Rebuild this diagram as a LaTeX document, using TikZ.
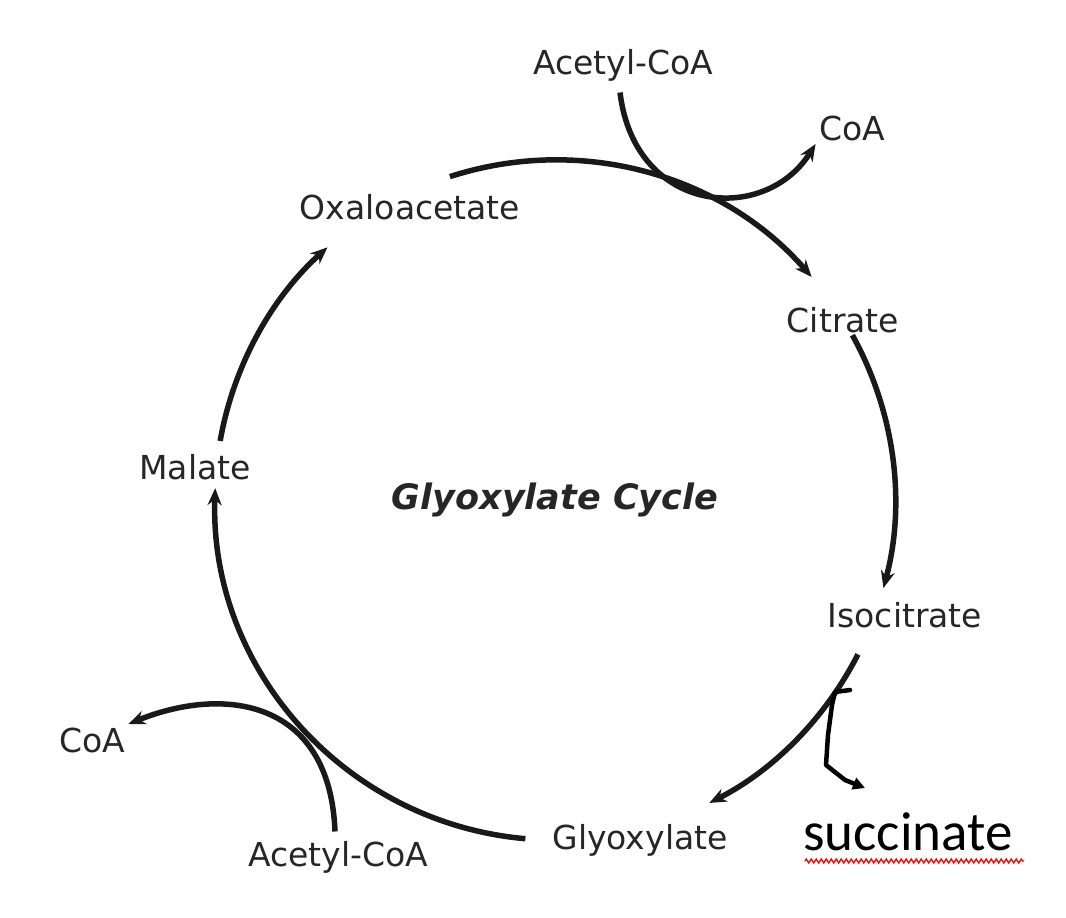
\documentclass[tikz,border=0pt]{standalone}
\usepackage{fontspec}
\setmainfont{DejaVu Sans}
\newfontfamily\calib{Carlito}
\usetikzlibrary{arrows.meta,decorations.pathmorphing}
\begin{document}
\begin{tikzpicture}[x=1pt,y=-1pt,
  lbl/.style={font=\fontsize{33}{36}\selectfont, text=black!85},
  arc/.style={line width=5.5pt, black!90, -{Stealth[length=17pt,width=14pt]}},
  side/.style={line width=5.5pt, black!90, -{Stealth[length=17pt,width=14pt]}}]
\useasboundingbox (0,0) rectangle (1066,918);
\def\cx{555}\def\cy{500}\def\r{340}
\node[lbl] (acoa1) at (623,65) {Acetyl-CoA};
\node[lbl] (coa1) at (852,128) {CoA};
\node[lbl] (oaa) at (410,207) {Oxaloacetate};
\node[lbl] (cit) at (843,320) {Citrate};
\node[lbl] (iso) at (905,615) {Isocitrate};
\node[lbl] (mal) at (195,467) {Malate};
\node[lbl] (gly) at (640,840) {Glyoxylate};
\node[lbl] (coa2) at (92,740) {CoA};
\node[lbl] (acoa2) at (338,857) {Acetyl-CoA};
\node[font=\fontsize{35}{38}\selectfont\bfseries\itshape, text=black!85] (title) at (555,500) {Glyoxylate Cycle};
\node[font=\calib\fontsize{55}{60}\selectfont, anchor=base west, inner sep=0] (succ) at (803,850) {succinate};
% cycle arcs
\draw[arc] ({\cx+\r*cos(108)},{\cy-\r*sin(108)}) arc[start angle=-108,end angle=-41,radius=\r];
\draw[arc] ({\cx+\r*cos(29)},{\cy-\r*sin(29)}) arc[start angle=-29,end angle=15,radius=\r];
\draw[arc] ({\cx+\r*cos(-27)},{\cy-\r*sin(-27)}) arc[start angle=27,end angle=63,radius=\r];
\draw[arc] ({\cx+\r*cos(-95)},{\cy-\r*sin(-95)}) arc[start angle=95,end angle=182,radius=\r];
\draw[arc] ({\cx+\r*cos(170)},{\cy-\r*sin(170)}) arc[start angle=190,end angle=228,radius=\r];
% side reactions
\draw[side] (acoa1.south) ++(-3,8) coordinate (a1) .. controls (635,215) and (765,225) .. (coa1.south west);
\draw[side] (acoa2.north) ++(-3,-6) coordinate (a2) .. controls (330,700) and (225,685) .. (coa2.north east);
% scribble
\coordinate (s0) at (850,690);
\draw[line width=4.5pt, line join=round, line cap=round, -{Triangle[length=12pt,width=12pt]}]
  (s0) -- (835,692) -- (832,705) -- (828,735) -- (826,765) -- (845,780) -- (865,788);
\draw[red, line width=1.3pt, decorate, decoration={zigzag,segment length=5pt,amplitude=2pt}] (805,861) -- (1024,861);
\end{tikzpicture}
\end{document}
